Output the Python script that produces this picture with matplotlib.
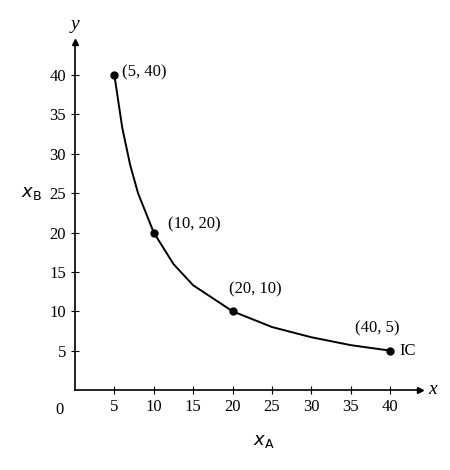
import matplotlib
matplotlib.use("Agg")
import matplotlib.pyplot as plt

xa_curve = [5, 6, 7, 8, 10, 12.5, 15, 20, 25, 30, 35, 40]
xb_curve = [40, 33.3, 28.6, 25, 20, 16, 13.3, 10, 8, 6.7, 5.7, 5]
pts_x = [5, 10, 20, 40]
pts_y = [40, 20, 10, 5]
pt_labels = ["(5, 40)", "(10, 20)", "(20, 10)", "(40, 5)"]
ticks = [5, 10, 15, 20, 25, 30, 35, 40]

plt.rcParams['font.family'] = ['Liberation Serif', 'DejaVu Serif']
fig = plt.figure(figsize=(4.5, 4.7), dpi=100)
ax = fig.add_axes([75/450, 1-390/470, 345/450, 348/470])
ax.set_xlim(0, 43.8)
ax.set_ylim(0, 44.2)
for s in ['top', 'right']:
    ax.spines[s].set_visible(False)
ax.spines['left'].set_linewidth(1.2)
ax.spines['bottom'].set_linewidth(1.2)
ax.plot(1, 0, ">k", transform=ax.transAxes, clip_on=False, ms=5)
ax.plot(0, 1, "^k", transform=ax.transAxes, clip_on=False, ms=5)
ax.plot(xa_curve, xb_curve, color='black', lw=1.4)
ax.plot(pts_x, pts_y, 'o', color='black', ms=5)
offs = [(1.0, 0.3), (1.8, 1.0), (-0.5, 1.8), (-4.5, 1.8)]
for x, y, l, (dx, dy) in zip(pts_x, pts_y, pt_labels, offs):
    ax.text(x + dx, y + dy, l, fontsize=12, va='bottom' if dy > 1 else 'center', ha='left')
ax.text(41.2, 5, "IC", fontsize=12, va='center')
ax.set_xticks(ticks)
ax.set_yticks(ticks)
ax.tick_params(labelsize=12, direction='inout', length=6)
ax.text(-1.5, -1.5, "0", fontsize=12, ha='right', va='top')
ax.text(44.8, 0, "x", fontsize=14, style='italic', va='center')
ax.text(0, 45.3, "y", fontsize=14, style='italic', ha='center', va='bottom')
ax.text(-5.5, 25, r"$x_{\mathrm{B}}$", fontsize=13, ha='center', va='center')
ax.text(24, -6.5, r"$x_{\mathrm{A}}$", fontsize=13, ha='center', va='center')
plt.rcParams['mathtext.fontset'] = 'stix'
fig.savefig("out.png")
